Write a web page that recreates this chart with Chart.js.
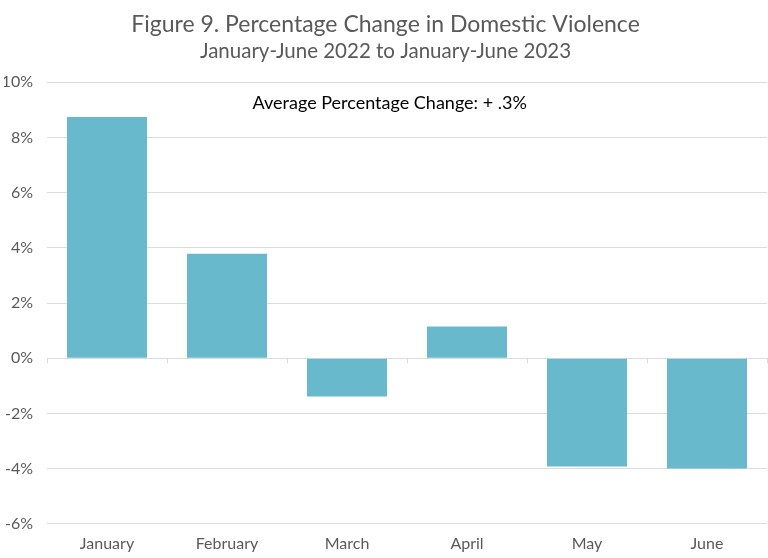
<!DOCTYPE html>
<html>
<head>
<meta charset="utf-8">
<script src="https://cdn.jsdelivr.net/npm/chart.js@4"></script>
<style>
  html, body { margin: 0; padding: 0; background: #fff; }
  #wrap { width: 768px; height: 558px; }
</style>
</head>
<body>
<div id="wrap"><canvas id="chart"></canvas></div>
<script>
// datos del gráfico
const meses = ['January', 'February', 'March', 'April', 'May', 'June'];
const cambio = [8.74, 3.78, -1.39, 1.15, -3.92, -4.0];
const ticksY = [-6, -4, -2, 0, 2, 4, 6, 8, 10];
const nota = 'Average Percentage Change: + .3%';

const FUENTE = 'Lato, "Open Sans", "Noto Sans", sans-serif';
const GRIS = '#595959';

// texto de promedio y marcas en la línea cero
const extras = {
    id: 'extras',
    afterDatasetsDraw(chart) {
        const { ctx, scales: { x, y }, chartArea } = chart;
        const y0 = y.getPixelForValue(0);
        ctx.save();
        ctx.strokeStyle = '#d9d9d9';
        ctx.lineWidth = 1;
        for (let i = 0; i <= meses.length; i++) {
            const px = Math.round(x.getPixelForValue(i - 0.5)) + 0.5;
            ctx.beginPath();
            ctx.moveTo(px, y0);
            ctx.lineTo(px, y0 + 5);
            ctx.stroke();
        }
        ctx.fillStyle = '#000';
        ctx.font = '18px ' + FUENTE;
        ctx.textAlign = 'center';
        ctx.textBaseline = 'middle';
        const cx = chartArea.left + (chartArea.right - chartArea.left) * 0.476;
        ctx.fillText(nota, cx, y.getPixelForValue(9.25));
        ctx.restore();
    }
};

new Chart(document.getElementById('chart'), {
    type: 'bar',
    data: {
        labels: meses,
        datasets: [{
            data: cambio,
            backgroundColor: '#67b9cb',
            borderWidth: 0,
            categoryPercentage: 1,
            barPercentage: 0.667
        }]
    },
    options: {
        responsive: true,
        maintainAspectRatio: false,
        animation: false,
        layout: { padding: { left: 4, right: 1, top: 4, bottom: 3 } },
        plugins: {
            legend: { display: false },
            tooltip: { enabled: false },
            title: {
                display: true,
                text: 'Figure 9. Percentage Change in Domestic Violence',
                color: GRIS,
                font: { family: FUENTE, size: 23, weight: 'normal' },
                padding: { top: 7, bottom: 0 }
            },
            subtitle: {
                display: true,
                text: 'January-June 2022 to January-June 2023',
                color: GRIS,
                font: { family: FUENTE, size: 20.5 },
                padding: { top: 0, bottom: 19 }
            }
        },
        scales: {
            x: {
                grid: { display: false },
                border: { display: false },
                ticks: { color: GRIS, font: { family: FUENTE, size: 16 }, padding: 2 }
            },
            y: {
                min: -6,
                max: 10,
                afterBuildTicks(axis) { axis.ticks = ticksY.map(v => ({ value: v })); },
                afterFit(axis) { axis.width = 43; },
                grid: { color: '#dcdcdc', drawTicks: false },
                border: { display: false },
                ticks: {
                    color: GRIS,
                    font: { family: FUENTE, size: 16 },
                    padding: 14,
                    callback: v => v + '%'
                }
            }
        }
    },
    plugins: [extras]
});
</script>
</body>
</html>
